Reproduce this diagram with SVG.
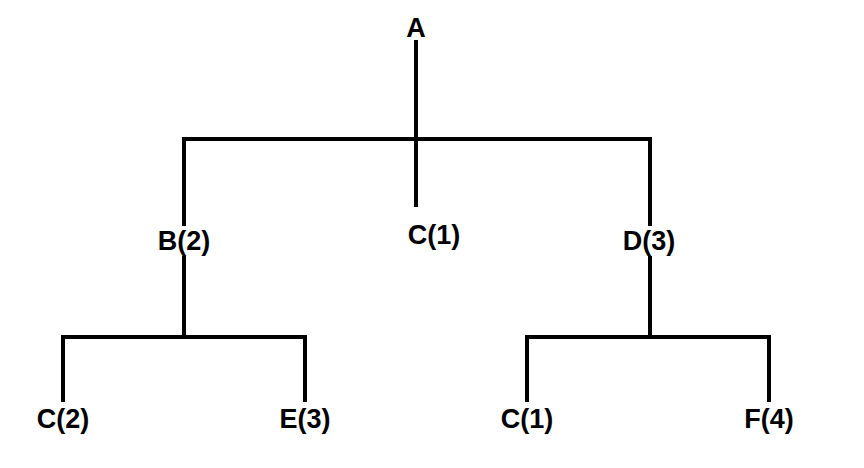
<svg xmlns="http://www.w3.org/2000/svg" width="864" height="468" viewBox="0 0 864 468">
<style>
.l{stroke:#000;stroke-width:4;fill:none;stroke-linecap:square}
text{font-family:"Liberation Sans",Arial,sans-serif;font-weight:bold;font-size:27px;text-anchor:middle;fill:#000}
</style>
<rect width="864" height="468" fill="#fff"/>
<g id="connectors">
<path class="l" d="M416 42V205M184 139H650M184 139V224M650 139V224M184 258V337M650 258V337M63 337H305M63 337V400M305 337V400M527 337H769M527 337V400M769 337V400"/>
</g>
<g id="A"><text x="416" y="37">A</text></g>
<g id="B2"><text x="184" y="250">B(2)</text></g>
<g id="C1a"><text x="434" y="244">C(1)</text></g>
<g id="D3"><text x="649" y="250">D(3)</text></g>
<g id="C2"><text x="63" y="428">C(2)</text></g>
<g id="E3"><text x="305" y="428">E(3)</text></g>
<g id="C1b"><text x="527" y="428">C(1)</text></g>
<g id="F4"><text x="769" y="428">F(4)</text></g>
</svg>
